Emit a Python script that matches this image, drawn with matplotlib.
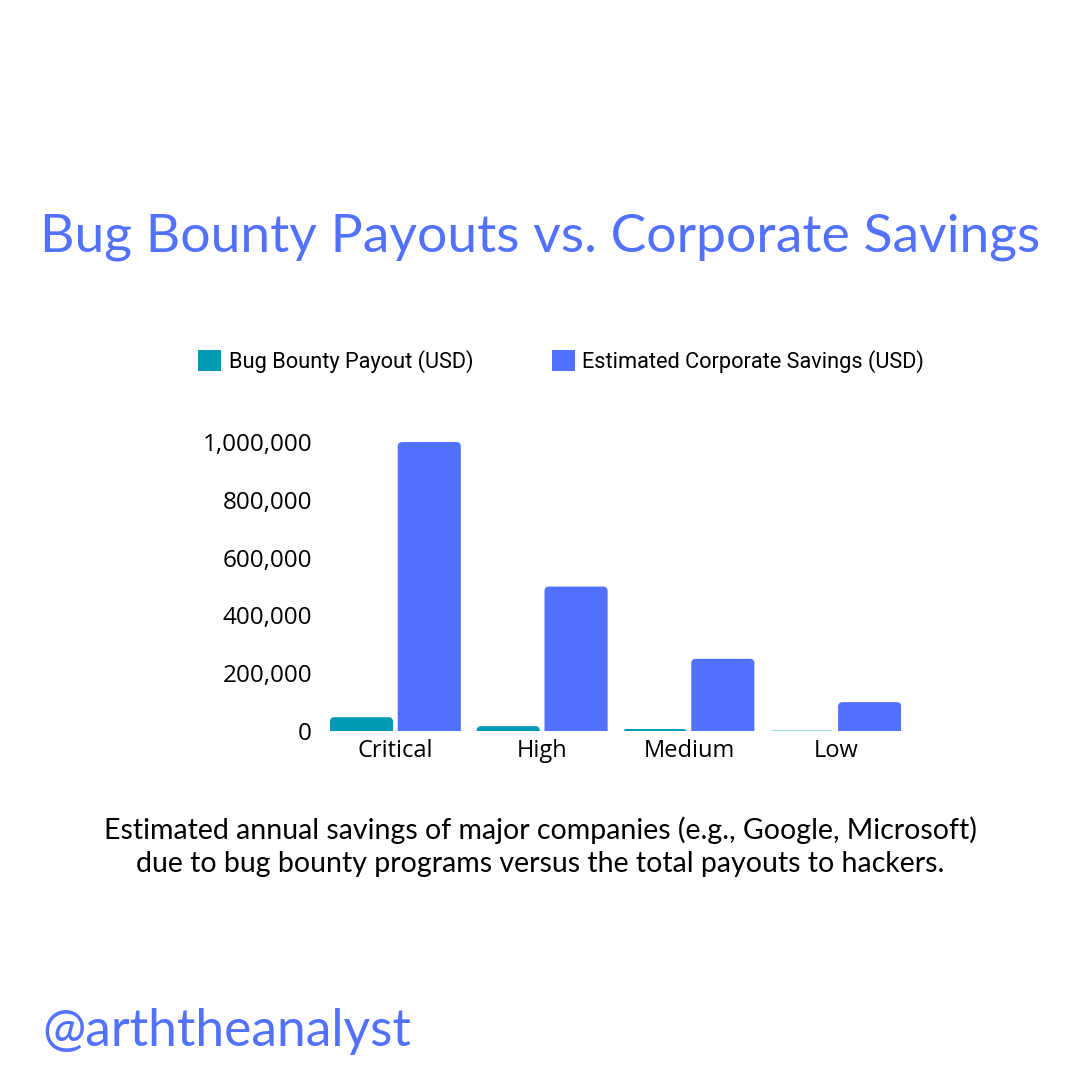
import matplotlib
matplotlib.use("Agg")
import matplotlib.pyplot as plt
from matplotlib.patches import FancyBboxPatch, Patch
from matplotlib.ticker import FuncFormatter

# data
categories = ["Critical", "High", "Medium", "Low"]
payout = [48000, 17000, 7000, 1500]
savings = [1000000, 500000, 250000, 100000]
series_names = ["Bug Bounty Payout (USD)", "Estimated Corporate Savings (USD)"]
yticks = [0, 200000, 400000, 600000, 800000, 1000000]

teal = "#009AB5"
blue = "#5271FF"

fig = plt.figure(figsize=(10.8, 10.8), dpi=100)
fig.patch.set_facecolor("white")
ax = fig.add_axes([0.3056, 0.3231, 0.5287, 0.2676])

width = 0.43
offset = 0.231
ymax = 1000000
xlo, xhi = -0.445, 3.445
ax.set_xlim(xlo, xhi)
ax.set_ylim(0, ymax)

# pixel -> data conversion so corners look round
px_x = (xhi - xlo) / (0.5287 * 1080)
px_y = ymax / (0.2676 * 1080)
aspect = px_y / px_x
r = 4.5 * px_x


def rounded_bar(xc, h, color):
    ry = r * aspect
    rr = min(r, (h + ry) / 2 / aspect)
    p = FancyBboxPatch((xc - width / 2, -ry), width, h + ry,
                       boxstyle="round,pad=0,rounding_size=%f" % rr,
                       mutation_aspect=aspect, facecolor=color,
                       edgecolor="none")
    ax.add_patch(p)


for i in range(len(categories)):
    rounded_bar(i - offset, payout[i], teal)
    rounded_bar(i + offset, savings[i], blue)

for s in ax.spines.values():
    s.set_visible(False)
ax.set_xticks(range(len(categories)))
ax.set_xticklabels(categories, fontsize=17, family="Open Sans")
ax.set_yticks(yticks)
ax.yaxis.set_major_formatter(FuncFormatter(lambda v, p: f"{int(v):,}"))
for t in ax.get_yticklabels():
    t.set_fontsize(17.5)
    t.set_family("Open Sans")
ax.tick_params(axis="both", length=0)
ax.tick_params(axis="y", pad=13)
ax.tick_params(axis="x", pad=6)

fig.text(0.5, 0.780, "Bug Bounty Payouts vs. Corporate Savings",
         ha="center", va="center", fontsize=38.5, color=blue, family="Lato")

handles = [Patch(facecolor=teal, edgecolor="none"),
           Patch(facecolor=blue, edgecolor="none")]
fig.legend(handles, series_names, loc="center", bbox_to_anchor=(0.5195, 0.665),
           ncol=2, frameon=False, handlelength=1.07,
           handleheight=1.07, handletextpad=0.33, columnspacing=3.6,
           prop={"family": "Roboto", "size": 15.7})

fig.text(0.5, 0.2157,
         "Estimated annual savings of major companies (e.g., Google, Microsoft)\n"
         "due to bug bounty programs versus the total payouts to hackers.",
         ha="center", va="center", fontsize=20.5, linespacing=1.32, family="Lato")

fig.text(0.039, 0.045, "@arththeanalyst", ha="left", va="center",
         fontsize=37.2, color=blue, family="Lato")

fig.savefig("out.png", dpi=100, facecolor="white")
